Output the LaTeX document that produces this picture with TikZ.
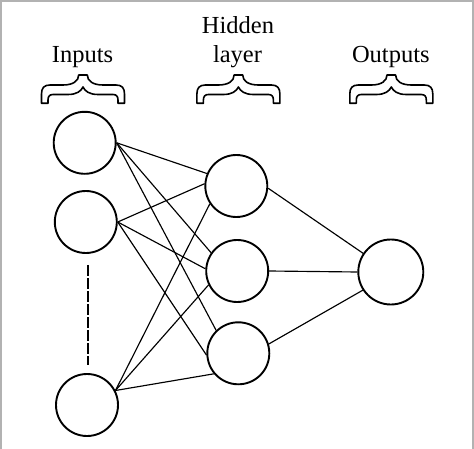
\documentclass[tikz,border=0pt]{standalone}
\usepackage{fontspec}
\setmainfont{Liberation Serif}
\usetikzlibrary{calc}
\tikzstyle{neuron} = [circle, minimum size=62pt, inner sep=0pt, draw=black, line width=1.9pt]
\tikzstyle{label} = [font=\fontsize{24.5}{29}\selectfont, anchor=base, inner sep=0pt]
\tikzstyle{link} = [line width=1.15pt]
\tikzstyle{braceline} = [line width=1.6pt, line join=round, fill=white]
% hollow curly brace, centred at x = #1
\newcommand{\layerbrace}[1]{
	\begin{scope}[shift={(#1,0)}]
		\draw[braceline] (-4.3,75) -- (4.3,75)
			.. controls (4.3,81) and (10,85) .. (20,85) -- (33,85)
			.. controls (39,85) and (41.5,88) .. (41.5,94)
			-- (41.5,103.3) -- (35,103.3) -- (35,100)
			.. controls (35,96.5) and (33.5,94.5) .. (30,94.5) -- (15,94.5)
			.. controls (6,94.5) and (2,91) .. (0,87)
			.. controls (-2,91) and (-6,94.5) .. (-15,94.5) -- (-30,94.5)
			.. controls (-33.5,94.5) and (-35,96.5) .. (-35,100)
			-- (-35,103.3) -- (-41.5,103.3) -- (-41.5,94)
			.. controls (-41.5,88) and (-39,85) .. (-33,85) -- (-20,85)
			.. controls (-10,85) and (-4.3,81) .. (-4.3,75) -- cycle;
	\end{scope}
}

\begin{document}
\begin{tikzpicture}[x=1pt, y=-1pt]
	\useasboundingbox (0,0) rectangle (474,449);
	% frame
	\draw[black!30, line width=2pt] (1,449) -- (1,1) -- (472.7,1) -- (472.7,449);
	% Labels
	\node(inputs)[label] at (82.5,63) {Inputs};
	\node(hidden)[label] at (238,33.5) {Hidden};
	\node(layer)[label] at (237.5,63) {layer};
	\node(outputs)[label] at (390.8,63) {Outputs};
	\layerbrace{83}
	\layerbrace{238.4}
	\layerbrace{391.3}
	% neurons
	\node(in1)[neuron] at (84.7,142.8) {};
	\node(in2)[neuron] at (85.8,222) {};
	\node(in3)[neuron] at (87,405) {};
	\node(h1)[neuron] at (236.3,186) {};
	\node(h2)[neuron] at (237.2,271) {};
	\node(h3)[neuron] at (238.3,353.3) {};
	\node(out)[neuron, minimum size=65pt] at (390.8,272) {};
	% omitted inputs
	\draw[line width=2.5pt, dash pattern=on 10.5pt off 2.5pt] (88,265) -- (88,365);
	% input -> hidden
	\draw [link] (in1.east) -- (h1.157);
	\draw [link] (in1.east) -- (h2.145);
	\draw [link] (in1.east) -- (h3.134);
	\draw [link] (in2.east) -- (h1.176);
	\draw [link] (in2.east) -- (h2.176);
	\draw [link] (in2.east) -- (h3.183);
	\draw [link] (in3.27) -- (h1.214);
	\draw [link] (in3.27) -- (h2.206);
	\draw [link] (in3.27) -- (h3.220);
	% hidden -> output
	\draw [link] (h1.-4) -- (out.146);
	\draw [link] (h2.east) -- (out.west);
	\draw [link] (h3.17) -- (out.213);
\end{tikzpicture}
\end{document}
